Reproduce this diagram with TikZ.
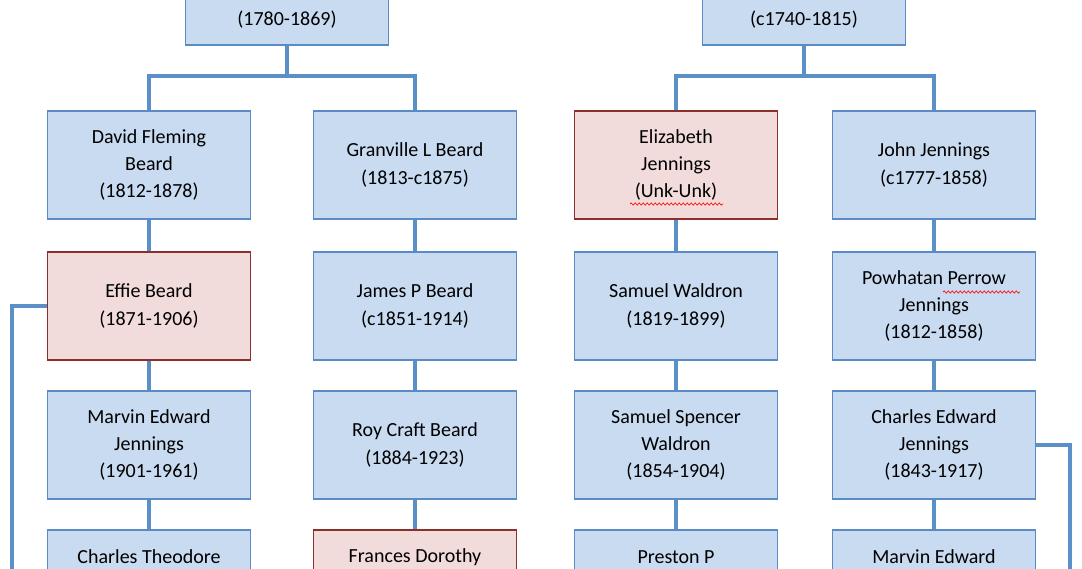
\documentclass[tikz,border=0pt]{standalone}
\usepackage{fontspec}
\setmainfont{Carlito}
\usetikzlibrary{decorations.pathmorphing}
\definecolor{bfill}{HTML}{C9DBF1}
\definecolor{bline}{HTML}{5B8BC4}
\definecolor{pfill}{HTML}{F2DCDB}
\definecolor{pline}{HTML}{8C2F2B}
\definecolor{conn}{HTML}{5B8FC8}
\tikzset{
 pbox/.style={draw=bline,fill=bfill,line width=1pt,minimum width=152pt,minimum height=81pt,inner sep=0pt,align=center,font=\fontsize{15}{20.5}\selectfont},
 fbox/.style={pbox,draw=pline,fill=pfill},
 lbl/.style={font=\fontsize{15}{20.5}\selectfont,inner sep=0pt},
 link/.style={draw=conn,line width=2.4pt},
 squig/.style={draw=red,line width=0.5pt,decorate,decoration={snake,amplitude=0.8pt,segment length=3pt}}
}
\begin{document}
\begin{tikzpicture}[x=0.75pt,y=-0.75pt]
\useasboundingbox (0,0) rectangle (1082,568);
\clip (0,0) rectangle (1082,568);
\fill[white] (0,0) rectangle (1082,568);
% top
\node[pbox] (tl) at (287,-9) {};
\node[lbl] (tlt) at (287,20) {(1780-1869)};
\node[pbox] (tr) at (804,-9) {};
\node[lbl] (trt) at (804,20) {(c1740-1815)};
% row1
\node[pbox] (a1) at (149,165) {David Fleming\\Beard\\(1812-1878)};
\node[pbox] (b1) at (415,165) {Granville L Beard\\(1813-c1875)};
\node[fbox] (c1) at (676,165) {Elizabeth\\Jennings\\(Unk-Unk)};
\node[pbox] (d1) at (934,165) {John Jennings\\(c1777-1858)};
% row2
\node[fbox] (a2) at (149,306) {Effie Beard\\(1871-1906)};
\node[pbox] (b2) at (415,306) {James P Beard\\(c1851-1914)};
\node[pbox] (c2) at (676,306) {Samuel Waldron\\(1819-1899)};
\node[pbox] (d2) at (934,306) {Powhatan Perrow\\Jennings\\(1812-1858)};
% row3
\node[pbox] (a3) at (149,445) {Marvin Edward\\Jennings\\(1901-1961)};
\node[pbox] (b3) at (415,445) {Roy Craft Beard\\(1884-1923)};
\node[pbox] (c3) at (676,445) {Samuel Spencer\\Waldron\\(1854-1904)};
\node[pbox] (d3) at (934,445) {Charles Edward\\Jennings\\(1843-1917)};
% row4
\node[pbox] (a4) at (149,584) {};
\node[fbox] (b4) at (415,584) {};
\node[pbox] (c4) at (676,584) {};
\node[pbox] (d4) at (934,584) {};
\node[lbl] at (149,557) {Charles Theodore};
\node[lbl] at (415,557) {Frances Dorothy};
\node[lbl] at (676,557) {Preston P};
\node[lbl] at (934,557) {Marvin Edward};
% squiggles
\draw[squig] (630,204) -- (723,204);
\draw[squig] (943,292) -- (1020,292);
% connectors
\draw[link] (tl.south) -- (287,76) coordinate (lj);
\draw[link] (a1.north) |- (lj) -| (b1.north);
\draw[link] (tr.south) -- (804,76) coordinate (rj);
\draw[link] (c1.north) |- (rj) -| (d1.north);
\foreach \c in {a,b,c,d}{
 \draw[link] (\c1.south) -- (\c2.north);
 \draw[link] (\c2.south) -- (\c3.north);
 \draw[link] (\c3.south) -- (\c4.north);
}
\coordinate (lb) at (12,580);
\coordinate (rb) at (1070,580);
\draw[link] (a2.west) -| (lb);
\draw[link] (d3.east) -| (rb);
\end{tikzpicture}
\end{document}
